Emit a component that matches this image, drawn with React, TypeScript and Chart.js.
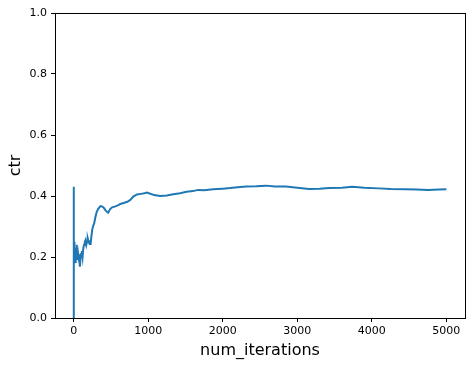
import React, { useEffect, useRef } from "react";
import { Chart, registerables } from "chart.js";

Chart.register(...registerables);

const iterations = [0, 1, 2, 3, 5, 8, 10, 15, 20, 25, 30, 35, 40, 45, 50, 55, 60, 70, 80, 84, 90, 100, 110, 120, 130, 140, 150, 160, 170, 180, 190, 200, 210, 220, 227, 235, 249, 260, 275, 293, 310, 330, 360, 380, 404, 430, 462, 490, 516, 560, 600, 627, 680, 720, 760, 800, 849, 900, 950, 982, 1020, 1080, 1160, 1250, 1338, 1427, 1516, 1600, 1671, 1750, 1871, 2000, 2100, 2200, 2316, 2450, 2582, 2700, 2849, 3000, 3160, 3300, 3427, 3600, 3737, 3900, 4093, 4250, 4449, 4600, 4760, 4900, 5000];
const ctrValues = [0, 0.43, 0.33, 0.25, 0.2, 0.24, 0.25, 0.19, 0.22, 0.18, 0.23, 0.2, 0.24, 0.19, 0.22, 0.2, 0.21, 0.19, 0.18, 0.168, 0.19, 0.21, 0.22, 0.2, 0.23, 0.24, 0.25, 0.256, 0.24, 0.25, 0.26, 0.25, 0.245, 0.25, 0.24, 0.26, 0.289, 0.3, 0.31, 0.332, 0.348, 0.358, 0.367, 0.366, 0.362, 0.352, 0.345, 0.357, 0.363, 0.366, 0.37, 0.374, 0.378, 0.381, 0.387, 0.398, 0.405, 0.407, 0.409, 0.411, 0.408, 0.403, 0.4, 0.402, 0.406, 0.409, 0.414, 0.416, 0.42, 0.419, 0.422, 0.424, 0.426, 0.429, 0.431, 0.432, 0.434, 0.431, 0.431, 0.427, 0.423, 0.424, 0.426, 0.427, 0.43, 0.427, 0.425, 0.423, 0.422, 0.421, 0.42, 0.421, 0.422];
const xTicks = [0, 1000, 2000, 3000, 4000, 5000];
const yTicks = [0, 0.2, 0.4, 0.6, 0.8, 1.0];
const xLabel = "num_iterations";
const yLabel = "ctr";

const FONT = "'DejaVu Sans', sans-serif";

const boxPlugin = {
  id: "box",
  afterDraw(chart: any) {
    const { ctx, chartArea } = chart;
    ctx.save();
    ctx.strokeStyle = "#000";
    ctx.lineWidth = 1;
    ctx.strokeRect(Math.round(chartArea.left) + 0.5, Math.round(chartArea.top) + 0.5, Math.round(chartArea.right - chartArea.left), Math.round(chartArea.bottom - chartArea.top));
    ctx.restore();
  },
};

export default function App() {
  const ref = useRef<HTMLCanvasElement>(null);
  useEffect(() => {
    const data = iterations.map((x, i) => ({ x, y: ctrValues[i] }));
    const chart = new Chart(ref.current!, {
      type: "scatter",
      data: {
        datasets: [
          {
            data,
            showLine: true,
            borderColor: "#1f77b4",
            backgroundColor: "#1f77b4",
            borderWidth: 2,
            pointRadius: 0,
            tension: 0,
          },
        ],
      },
      options: {
        animation: false,
        responsive: false,
        layout: { padding: { top: 13, right: 9, left: 0, bottom: 0 } },
        plugins: { legend: { display: false }, tooltip: { enabled: false } },
        scales: {
          x: {
            type: "linear",
            min: -250,
            max: 5250,
            afterBuildTicks(scale: any) {
              scale.ticks = xTicks.map((v) => ({ value: v }));
            },
            afterFit(scale: any) {
              scale.height = 49;
            },
            grid: { drawOnChartArea: false, drawTicks: true, tickLength: 4, color: "#000", tickColor: "#000" },
            border: { display: true, color: "#000" },
            ticks: { color: "#000", font: { family: FONT, size: 11 }, padding: 3, maxRotation: 0, callback: (v: any) => String(v) },
            title: { display: true, text: xLabel, color: "#000", font: { family: FONT, size: 16 }, padding: { top: 0, bottom: 7 } },
          },
          y: {
            type: "linear",
            min: 0,
            max: 1,
            afterBuildTicks(scale: any) {
              scale.ticks = yTicks.map((v) => ({ value: v }));
            },
            afterFit(scale: any) {
              scale.width = 55;
            },
            grid: { drawOnChartArea: false, drawTicks: true, tickLength: 4, color: "#000", tickColor: "#000" },
            border: { display: true, color: "#000" },
            ticks: { color: "#000", font: { family: FONT, size: 11 }, padding: 4, callback: (v: any) => Number(v).toFixed(1) },
            title: { display: true, text: yLabel, color: "#000", font: { family: FONT, size: 16 }, padding: { top: 6, bottom: 0 } },
          },
        },
      },
      plugins: [boxPlugin],
    });
    return () => chart.destroy();
  }, []);
  return (
    <div style={{ position: "fixed", left: 0, top: 0, width: 474, height: 367, background: "#fff" }}>
      <canvas ref={ref} width={474} height={367} style={{ width: 474, height: 367 }} />
    </div>
  );
}
